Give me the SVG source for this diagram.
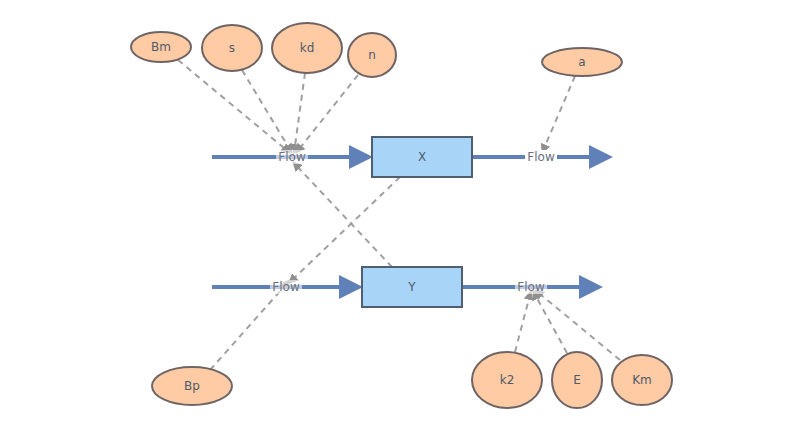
<svg xmlns="http://www.w3.org/2000/svg" width="800" height="422" viewBox="0 0 800 422">
<style>
.e{fill:#ffcba4;stroke:#6e6464;stroke-width:2}
.b{fill:#a8d4f8;stroke:#4f5e70;stroke-width:2}
.f{stroke:#6080b8;stroke-width:4;fill:none}
.d{stroke:#a0a0a0;stroke-width:2;stroke-dasharray:6,5;fill:none}
text{font-family:"DejaVu Sans",sans-serif;font-size:12px;fill:#505a6a;text-anchor:middle;dominant-baseline:central}
.lb{font-size:12px;fill:#6a7080}
</style>
<defs>
<marker id="fa" markerWidth="6" markerHeight="6" refX="5" refY="3" orient="auto" markerUnits="strokeWidth"><path d="M0,0L6,3L0,6z" fill="#6080b8"/></marker>
<marker id="da" markerWidth="10" markerHeight="10" refX="9" refY="5" orient="auto" markerUnits="userSpaceOnUse"><path d="M0,0L10,5L0,10z" fill="#909090"/></marker>
</defs>
<g id="connectors">
<line class="f" x1="212" y1="157" x2="369" y2="157" marker-end="url(#fa)"/>
<line class="f" x1="472" y1="157" x2="609" y2="157" marker-end="url(#fa)"/>
<line class="f" x1="212" y1="287" x2="359" y2="287" marker-end="url(#fa)"/>
<line class="f" x1="462" y1="287" x2="599" y2="287" marker-end="url(#fa)"/>
<line class="d" x1="178" y1="60" x2="290" y2="153" marker-end="url(#da)"/>
<line class="d" x1="242" y1="70" x2="292" y2="153" marker-end="url(#da)"/>
<line class="d" x1="305" y1="73" x2="294" y2="153" marker-end="url(#da)"/>
<line class="d" x1="358" y1="75" x2="296" y2="153" marker-end="url(#da)"/>
<line class="d" x1="575" y1="76" x2="542" y2="153" marker-end="url(#da)"/>
<line class="d" x1="392" y1="267" x2="293" y2="162" marker-end="url(#da)"/>
<line class="d" x1="400" y1="177" x2="289" y2="283" marker-end="url(#da)"/>
<line class="d" x1="210" y1="370" x2="290" y2="280" marker-end="url(#da)"/>
<line class="d" x1="515" y1="352" x2="531" y2="291" marker-end="url(#da)"/>
<line class="d" x1="567" y1="353" x2="533" y2="291" marker-end="url(#da)"/>
<line class="d" x1="620" y1="360" x2="535" y2="290" marker-end="url(#da)"/>
</g>
<g id="labels">
<rect x="276" y="150" width="32" height="14" fill="#fff" opacity="0.6"/>
<text class="lb" x="292" y="157">Flow</text>
<rect x="525" y="150" width="32" height="14" fill="#fff"/>
<text class="lb" x="541" y="157">Flow</text>
<rect x="270" y="280" width="32" height="14" fill="#fff" opacity="0.6"/>
<text class="lb" x="286" y="287">Flow</text>
<rect x="515" y="280" width="32" height="14" fill="#fff" opacity="0.6"/>
<text class="lb" x="531" y="287">Flow</text>
</g>
<g id="X"><rect class="b" x="372" y="137" width="100" height="40"/><text x="422" y="157">X</text></g>
<g id="Y"><rect class="b" x="362" y="267" width="100" height="40"/><text x="412" y="287">Y</text></g>
<g id="Bm"><ellipse class="e" cx="161" cy="47" rx="30" ry="15"/><text x="161" y="47">Bm</text></g>
<g id="s"><ellipse class="e" cx="232" cy="48" rx="30" ry="23"/><text x="232" y="48">s</text></g>
<g id="kd"><ellipse class="e" cx="307" cy="48" rx="35" ry="25"/><text x="307" y="48">kd</text></g>
<g id="n"><ellipse class="e" cx="372" cy="55" rx="24" ry="22"/><text x="372" y="55">n</text></g>
<g id="a"><ellipse class="e" cx="582" cy="62" rx="40" ry="14"/><text x="582" y="62">a</text></g>
<g id="Bp"><ellipse class="e" cx="192" cy="386" rx="40" ry="19"/><text x="192" y="386">Bp</text></g>
<g id="k2"><ellipse class="e" cx="507" cy="380" rx="35" ry="28"/><text x="507" y="380">k2</text></g>
<g id="E"><ellipse class="e" cx="577" cy="380" rx="25" ry="28"/><text x="577" y="380">E</text></g>
<g id="Km"><ellipse class="e" cx="642" cy="380" rx="30" ry="25"/><text x="642" y="380">Km</text></g>
</svg>
